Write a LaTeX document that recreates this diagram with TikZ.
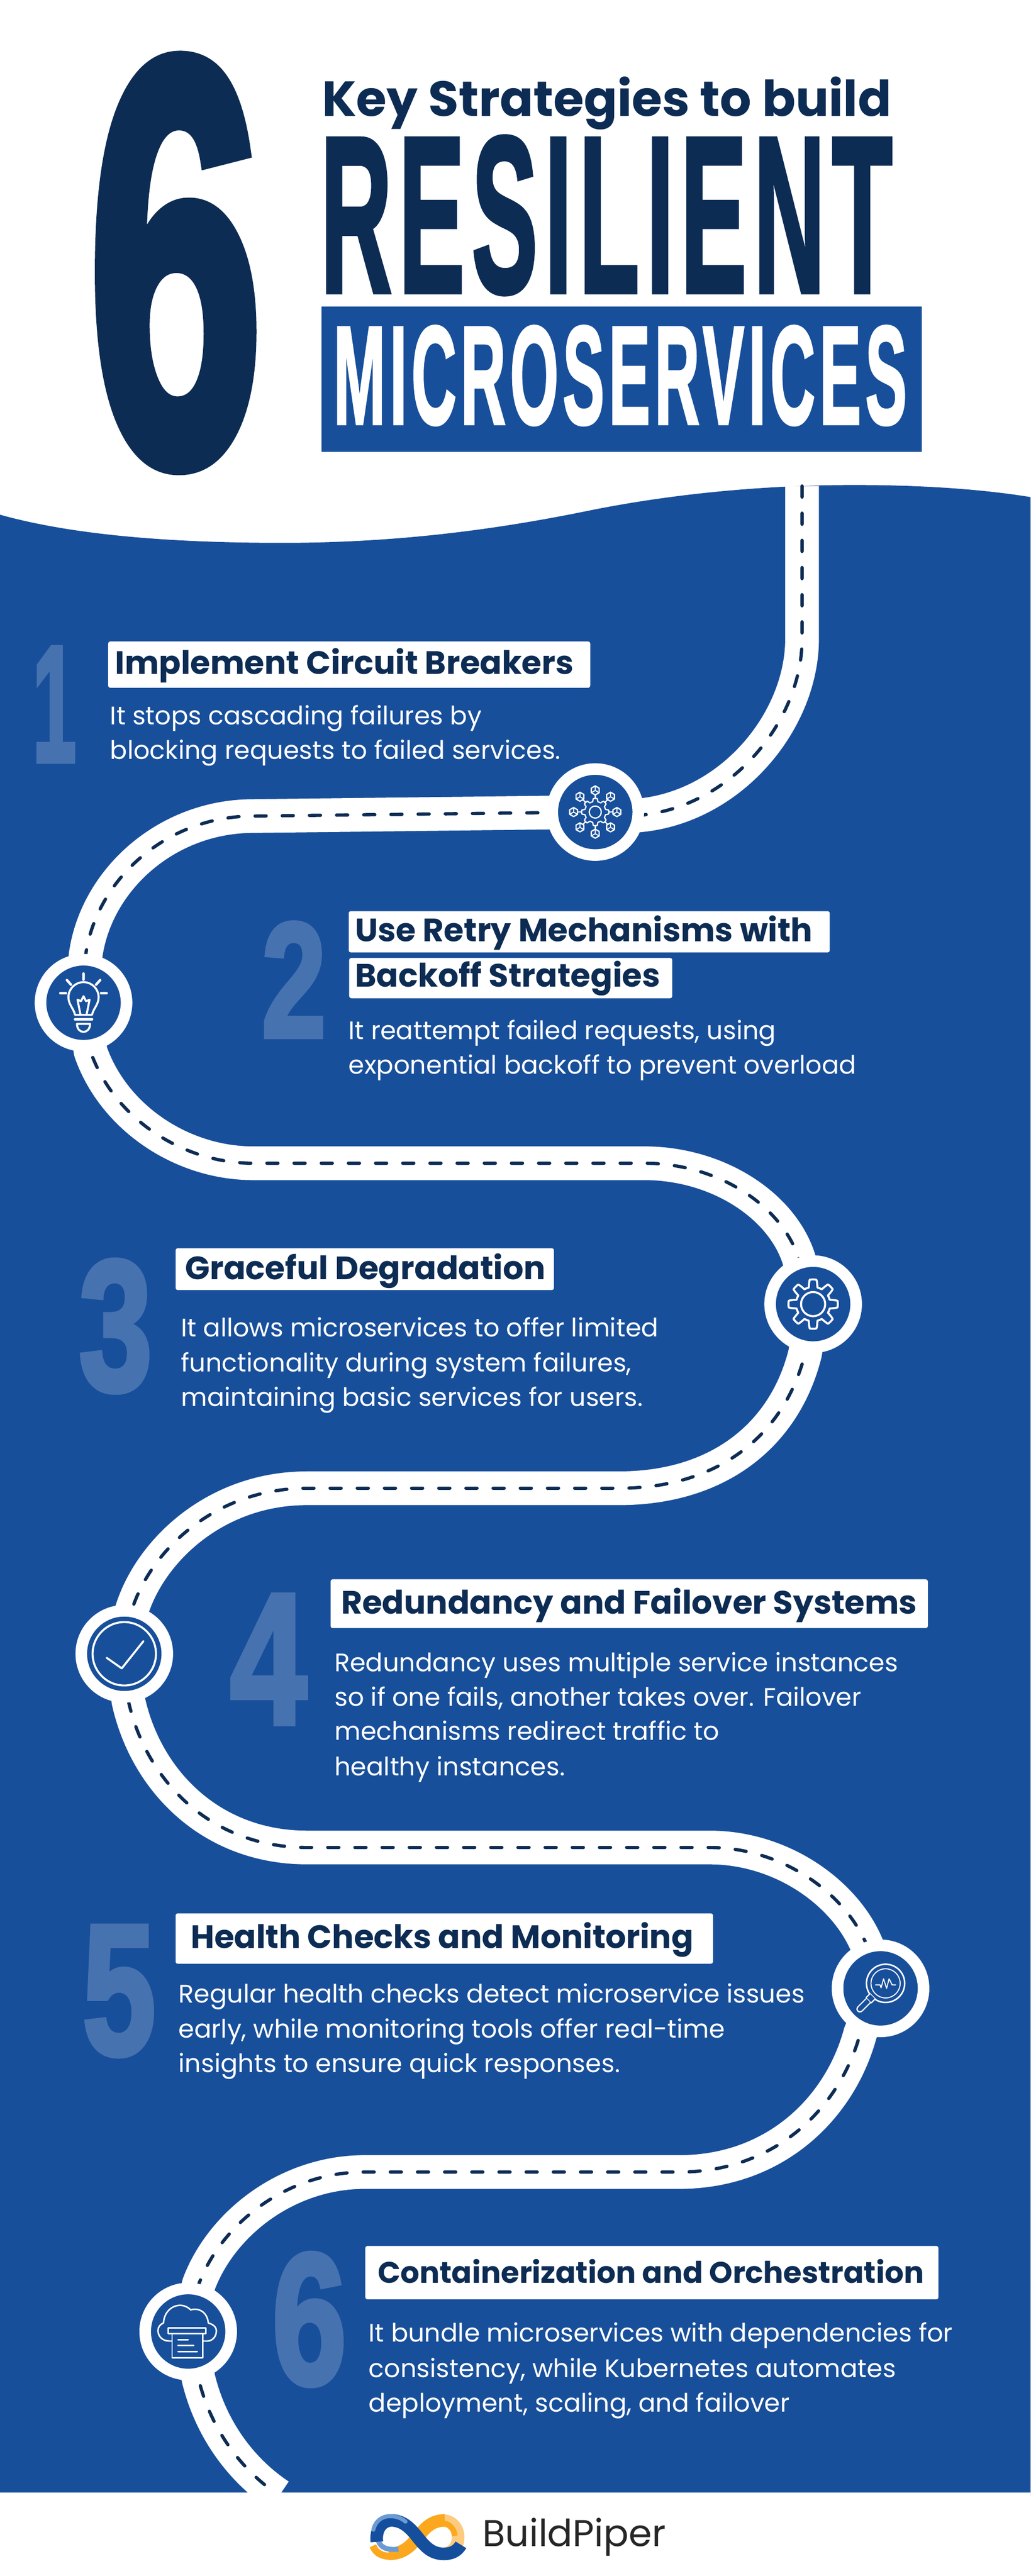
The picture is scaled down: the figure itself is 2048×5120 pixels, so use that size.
\documentclass[tikz,border=0pt]{standalone}
\usepackage{fontspec}
\usepackage{graphicx}
\setmainfont{Poppins}
\newfontfamily\bigfont[FakeBold=3]{Liberation Sans Bold}
\newfontfamily\wordfont[FakeBold=2,LetterSpace=7]{Liberation Sans Bold}
\definecolor{bgblue}{HTML}{184F9B}
\definecolor{navy}{HTML}{0D2C54}
\definecolor{numblue}{HTML}{4672B0}
\definecolor{logoblue}{HTML}{154E9C}
\definecolor{logolight}{HTML}{6C9BD4}
\definecolor{logoorange}{HTML}{FBA81F}
\definecolor{logopale}{HTML}{FDCB7E}
\tikzset{
  bigtext/.style={inner sep=0pt,outer sep=0pt,anchor=north west},
  titletext/.style={inner sep=0pt,outer sep=0pt,anchor=base west,text=navy},
  bodytext/.style={inner sep=0pt,outer sep=0pt,anchor=base west,text=white,font=\fontsize{50.5}{69}\selectfont},
  ring/.style={circle,fill=bgblue,draw=white,line width=23pt,minimum size=171pt,inner sep=0pt,outer sep=0pt},
  road/.style={draw=white,line width=67pt,line join=round},
  roaddash/.style={draw=navy,line width=6.5pt,line cap=round,dash pattern=on 22pt off 32pt},
  icon/.style={draw=white,line width=3.5pt,line cap=round,line join=round},
}
\newcommand{\bignum}[6]{%
  \pgfmathsetmacro{\nx}{#2-0.015*#4}\pgfmathsetmacro{\ny}{#3+0.025*#5}%
  \pgfmathsetmacro{\nw}{1.03*#4}\pgfmathsetmacro{\nh}{0.95*#5}%
  \node[bigtext,text=numblue] (#1) at (\nx,\ny) {\resizebox{\nw pt}{\nh pt}{\bigfont #6}};}
\newcommand{\headbox}[4]{\fill[white,rounded corners=4pt] (#1,#2) rectangle (#3,#4);}
\newcommand{\headtext}[5]{\node[titletext] (#1) at (#2,#3) {\resizebox{#4pt}{!}{\bfseries #5}};}
\newcommand{\bodyline}[4]{\node[bodytext] (#1) at (#2,#3) {#4};}
\begin{document}
\begin{tikzpicture}[x=1pt,y=-1pt]
\useasboundingbox (0,0) rectangle (2048,5120);
\fill[white] (0,0) rectangle (2048,5120);
% blue field with wavy top
\fill[bgblue] (0,1023) .. controls (150,1065) and (350,1079) .. (561,1079)
  .. controls (800,1079) and (1000,1050) .. (1175,1014)
  .. controls (1320,985) and (1500,964) .. (1698,964)
  .. controls (1830,964) and (1950,972) .. (2048,988)
  -- (2048,4960) -- (0,4960) -- cycle;
\coordinate (start) at (1594,966);
\coordinate (finish) at (555,4960);
\path (1183,1614) coordinate (c1) (166,1993) coordinate (c2) (1616,2592) coordinate (c3)
      (247,3287) coordinate (c4) (1750,3952) coordinate (c5) (374,4634) coordinate (c6);
% road
\def\roadpath{(start) -- (1594,1270) .. controls (1594,1440) and (1440,1622) .. (1240,1622) -- (c1)
  -- (503,1622) .. controls (330,1622) and (190,1750) .. (170,1900) -- (c2)
  -- (180,2090) .. controls (225,2220) and (360,2312) .. (503,2312)
  -- (1280,2312) .. controls (1430,2312) and (1560,2400) .. (1590,2510) -- (c3)
  -- (1600,2690) .. controls (1560,2850) and (1430,2958) .. (1230,2958)
  -- (610,2958) .. controls (430,2958) and (300,3080) .. (262,3200) -- (c4)
  -- (255,3380) .. controls (290,3540) and (420,3672) .. (610,3672)
  -- (1410,3672) .. controls (1560,3672) and (1690,3770) .. (1728,3880) -- (c5)
  -- (1710,4040) .. controls (1670,4190) and (1540,4317) .. (1350,4317)
  -- (725,4317) .. controls (570,4317) and (440,4420) .. (395,4540) -- (c6)
  -- (395,4730) .. controls (420,4830) and (480,4910) .. (finish)}
\path[road] \roadpath;
\path[roaddash] \roadpath;
% footer
\fill[white] (0,4954) rectangle (2048,5120);
% ring nodes
\node[ring] (n1) at (c1) {};
\node[ring] (n2) at (c2) {};
\node[ring] (n3) at (c3) {};
\node[ring] (n4) at (c4) {};
\node[ring] (n5) at (c5) {};
\node[ring] (n6) at (c6) {};
% icon 1: gear with cubes
\begin{scope}[shift={(c1)}]
  \draw[icon,line width=2.5pt] (0,0) circle (12);
  \draw[icon,line width=2.5pt] plot[domain=0:360,samples=160] (\x:{24+3*max(-1,min(1,2.5*cos(8*\x)))}) -- cycle;
  \foreach \a in {0,45,...,315}{
    \draw[icon,line width=2.5pt] (\a:27) -- (\a:34);
    \begin{scope}[shift={(\a:43)}]
      \draw[icon,line width=2.5pt] (30:9) -- (90:9) -- (150:9) -- (210:9) -- (270:9) -- (330:9) -- cycle;
      \draw[icon,line width=2pt] (0,0) -- (270:9) (0,0) -- (30:9) (0,0) -- (150:9);
    \end{scope}
  }
\end{scope}
% icon 2: light bulb
\begin{scope}[shift={(c2)}]
  \draw[icon,line width=4pt] (-17,24) .. controls (-19,12) and (-30,4) .. (-30,-11)
    .. controls (-30,-28) and (-16,-41) .. (0,-41) .. controls (16,-41) and (30,-28) .. (30,-11)
    .. controls (30,4) and (19,12) .. (17,24) -- cycle;
  \draw[icon,line width=4pt] (-6,24) -- (-12,-6) -- (-5,-3) -- (0,-13) -- (5,-3) -- (12,-6) -- (6,24);
  \draw[icon,line width=5pt] (0,-58) -- (0,-46) (-33,-45) -- (-25,-36) (33,-45) -- (25,-36)
    (-46,-19) -- (-35,-19) (46,-19) -- (35,-19) (-17,33) -- (17,33);
  \draw[icon,line width=4pt] (-13,42) -- (13,42) .. controls (13,52) and (7,58) .. (0,58) .. controls (-7,58) and (-13,52) .. (-13,42) -- cycle;
\end{scope}
% icon 3: gear
\begin{scope}[shift={(c3)}]
  \draw[icon,line width=4pt] (0,0) circle (24);
  \draw[icon,line width=4pt] plot[domain=0:360,samples=240,smooth] (\x:{41.5+7.5*max(-1,min(1,2.2*cos(8*\x)))}) -- cycle;
\end{scope}
% icon 4: check
\begin{scope}[shift={(c4)}]
  \draw[icon,line width=4pt] (0,0) circle (63);
  \draw[icon,line width=4pt] (-35,8) -- (-5,29) -- (38,-25);
\end{scope}
% icon 5: magnifier
\begin{scope}[shift={(c5)}]
  \draw[icon,line width=3pt] (10,-10) circle (38);
  \draw[icon,line width=2pt] (10,-10) circle (29);
  \draw[white,line width=14pt,line cap=round] (-41,41) -- (-20,20);
  \draw[bgblue,line width=9pt,line cap=round] (-41,41) -- (-20,20);
  \draw[white,line width=17pt] (-24,24) -- (-15,15);
  \draw[bgblue,line width=12pt] (-23,23) -- (-16,16);
  \draw[icon,line width=2pt] (-10,-7) -- (-1,-7) -- (1,-1) -- (6,-19) -- (12,0) -- (17,-19) -- (23,-7) -- (30,-7);
\end{scope}
% icon 6: cloud with container
\begin{scope}[shift={(c6)}]
  \draw[icon,line width=3pt] (-33,19) -- (-37,19) .. controls (-52,19) and (-60,9) .. (-60,-2)
    .. controls (-60,-9) and (-56,-14) .. (-49,-17) .. controls (-48,-38) and (-33,-52) .. (-16,-52)
    .. controls (-7,-52) and (0,-48) .. (5,-43) .. controls (22,-48) and (38,-38) .. (40,-17)
    .. controls (50,-14) and (56,-9) .. (56,-1) .. controls (56,10) and (48,19) .. (38,19) -- (30,19);
  \draw[icon,line width=3pt,fill=bgblue] (-32,4) rectangle (29,52);
  \draw[icon,line width=3pt,fill=bgblue] (-40,-7) rectangle (35,4);
  \draw[icon,line width=3pt] (-20,16) -- (0,16) (-20,28) -- (11,28) (-20,40) -- (18,40);
\end{scope}
% header
\node[bigtext,text=navy] (bigsix) at (175,118) {\resizebox{346pt}{793pt}{\bigfont 6}};
\node[titletext] (keytext) at (640,231) {\resizebox{1131pt}{!}{\bfseries Key Strategies to build}};
\node[bigtext,text=navy] (resilient) at (637,271) {\resizebox{1135pt}{309pt}{\wordfont RESILIENT}};
\fill[bgblue] (639,609) rectangle (1832,898);
\node[bigtext,text=white] (microservices) at (663,648) {\resizebox{1138pt}{194pt}{\wordfont MICROSERVICES}};
% step 1
\bignum{num1}{66}{1281}{84}{238}{1}
\headbox{215}{1275}{1173}{1367}
\headtext{head1}{229}{1340}{911}{Implement Circuit Breakers}
\bodyline{body1a}{219}{1440}{It stops cascading failures by}
\bodyline{body1b}{219}{1509}{blocking requests to failed services.}
% step 2
\bignum{num2}{522}{1828}{124}{238}{2}
\headbox{693}{1811}{1649}{1893}
\headbox{694}{1904}{1336}{1984}
\headtext{head2a}{706}{1871}{909}{Use Retry Mechanisms with}
\headtext{head2b}{706}{1961}{606}{Backoff Strategies}
\bodyline{body2a}{693}{2066}{It reattempt failed requests, using}
\bodyline{body2b}{693}{2135}{exponential backoff to prevent overload}
% step 3
\bignum{num3}{159}{2498}{141}{271}{3}
\headbox{349}{2481}{1101}{2564}
\headtext{head3}{368}{2543}{716}{Graceful Degradation}
\bodyline{body3a}{360}{2657}{It allows microservices to offer limited}
\bodyline{body3b}{360}{2726}{functionality during system failures,}
\bodyline{body3c}{360}{2795}{maintaining basic services for users.}
% step 4
\bignum{num4}{460}{3164}{147}{268}{4}
\headbox{657}{3139}{1844}{3236}
\headtext{head4}{678}{3208}{1144}{Redundancy and Failover Systems}
\bodyline{body4a}{665}{3322}{Redundancy uses multiple service instances}
\bodyline{body4b}{665}{3391}{so if one fails, another takes over. Failover}
\bodyline{body4c}{665}{3459}{mechanisms redirect traffic to}
\bodyline{body4d}{665}{3529}{healthy instances.}
% step 5
\bignum{num5}{166}{3822}{141}{267}{5}
\headbox{349}{3803}{1417}{3903}
\headtext{head5}{379}{3872}{999}{Health Checks and Monitoring}
\bodyline{body5a}{355}{3981}{Regular health checks detect microservice issues}
\bodyline{body5b}{355}{4050}{early, while monitoring tools offer real-time}
\bodyline{body5c}{355}{4119}{insights to ensure quick responses.}
% step 6
\bignum{num6}{543}{4472}{143}{272}{6}
\headbox{726}{4464}{1865}{4570}
\headtext{head6}{751}{4538}{1085}{Containerization and Orchestration}
\bodyline{body6a}{733}{4655}{It bundle microservices with dependencies for}
\bodyline{body6b}{733}{4725}{consistency, while Kubernetes automates}
\bodyline{body6c}{733}{4794}{deployment, scaling, and failover}
% footer logo
\draw[logopale,line width=25pt] (878,5009.5) .. controls (898,5009.5) and (910.5,5024) .. (910.5,5043)
  .. controls (910.5,5062) and (898,5076) .. (878,5076);
\draw[logoorange,line width=25pt] (772,5076) .. controls (800,5076) and (815,5062) .. (830,5043)
  .. controls (845,5024) and (858,5009.5) .. (884,5009.5);
\draw[logoorange,line width=11pt] (880,5015) .. controls (892,5015) and (903,5026) .. (904,5040);
\draw[logoorange,line width=14pt] (741,5060) .. controls (748,5076) and (760,5081) .. (780,5081);
\draw[logolight,line width=10pt] (752,5050) .. controls (757,5065) and (770,5068) .. (792,5067);
\draw[logoblue,line width=25pt] (749,5052) .. controls (746,5026) and (760,5009.5) .. (778,5009.5)
  .. controls (800,5009.5) and (815,5024) .. (830,5043)
  .. controls (845,5062) and (858,5076) .. (882,5076) .. controls (895,5076) and (908,5072) .. (916,5058);
\draw[logolight,line width=8pt,line cap=round] (742,5028) .. controls (746,5010) and (760,5001) .. (775,5001)
  .. controls (788,5001) and (798,5005) .. (806,5012);
\node[titletext,text=black!85] (brand) at (959,5061) {\resizebox{364pt}{!}{\fontseries{m}\selectfont BuildPiper}};
\end{tikzpicture}
\end{document}
